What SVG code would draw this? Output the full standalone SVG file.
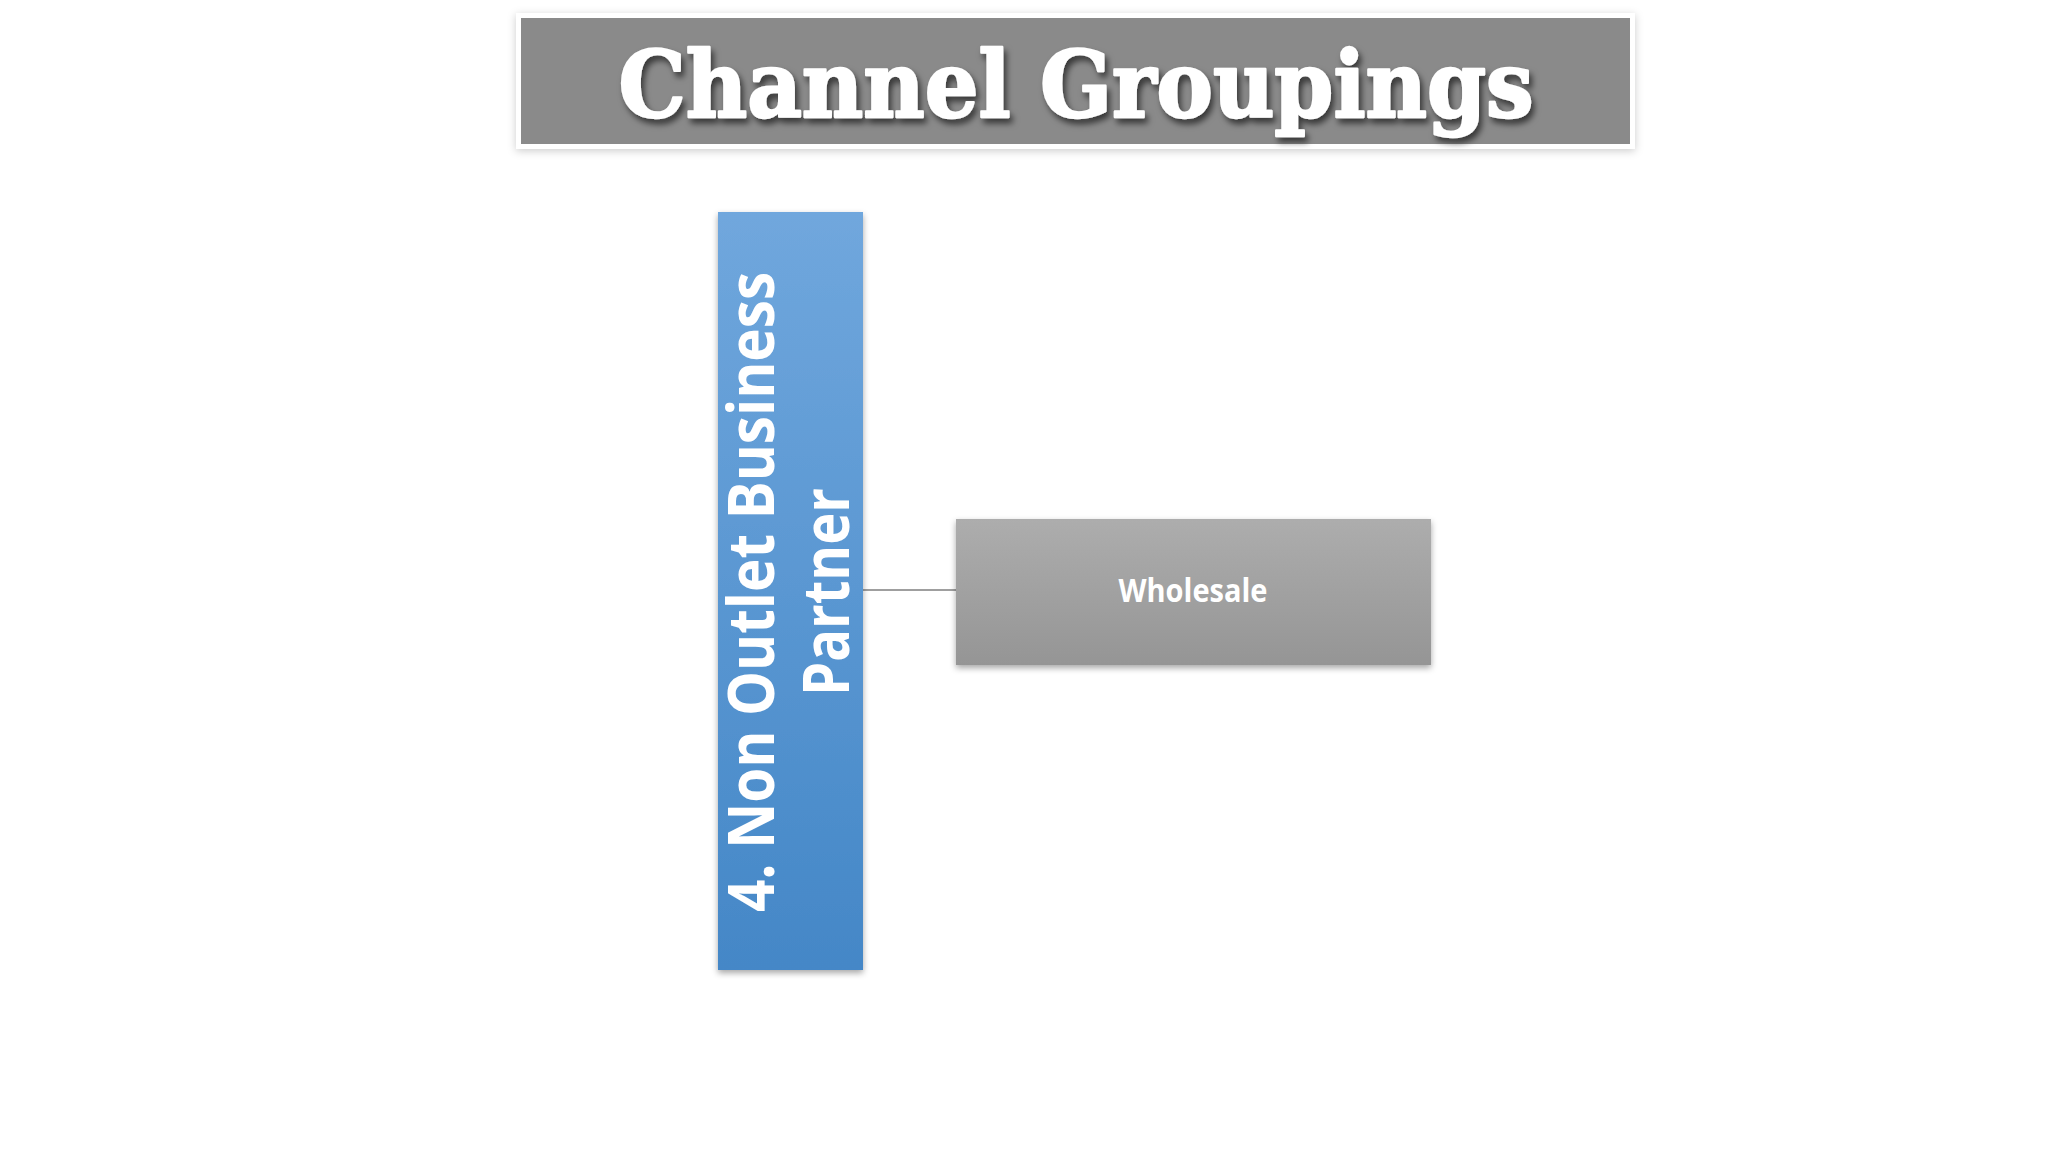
<svg xmlns="http://www.w3.org/2000/svg" width="2048" height="1152" viewBox="0 0 2048 1152">
<style>
.lbl{font-family:"Open Sans","Liberation Sans",sans-serif;font-weight:700;fill:#ffffff}
.title{font-family:"DejaVu Serif","Liberation Serif",serif;font-weight:700;fill:#ffffff;stroke:#ffffff;stroke-width:2.5;stroke-linejoin:round}
.conn{stroke:#7f7f7f;stroke-width:1.5;fill:none}
</style>
<defs>
<linearGradient id="gBlue" x1="0" y1="0" x2="0" y2="1">
<stop offset="0" stop-color="#70a7dd"/>
<stop offset="1" stop-color="#4487c7"/>
</linearGradient>
<linearGradient id="gGray" x1="0" y1="0" x2="0" y2="1">
<stop offset="0" stop-color="#adadad"/>
<stop offset="1" stop-color="#959595"/>
</linearGradient>
<filter id="sh" x="-10%" y="-10%" width="120%" height="120%">
<feDropShadow dx="0" dy="3" stdDeviation="3" flood-color="#000" flood-opacity="0.35"/>
</filter>
<filter id="frameSh" x="-5%" y="-20%" width="110%" height="140%">
<feDropShadow dx="0" dy="2" stdDeviation="4" flood-color="#000" flood-opacity="0.2"/>
</filter>
<filter id="txtSh" x="-5%" y="-20%" width="110%" height="150%">
<feDropShadow dx="3" dy="5" stdDeviation="3" flood-color="#000" flood-opacity="0.6"/>
</filter>
</defs>
<rect width="2048" height="1152" fill="#ffffff"/>
<g id="title">
<rect x="516" y="13" width="1119" height="136" fill="#ffffff" filter="url(#frameSh)"/>
<rect x="521" y="18" width="1109" height="126" fill="#8a8a8a"/>
<text class="title" x="1076" y="117" text-anchor="middle" font-size="92" textLength="915" lengthAdjust="spacingAndGlyphs" filter="url(#txtSh)">Channel Groupings</text>
</g>
<g id="connectors">
<line class="conn" x1="863" y1="590" x2="956" y2="590"/>
</g>
<g id="node-non-outlet">
<rect x="718" y="212" width="145" height="758" fill="url(#gBlue)" filter="url(#sh)"/>
<text class="lbl" font-size="64" transform="translate(774,592) rotate(-90)" text-anchor="middle" textLength="640" lengthAdjust="spacingAndGlyphs">4. Non Outlet Business</text>
<text class="lbl" font-size="64" transform="translate(849,592) rotate(-90)" text-anchor="middle" textLength="208" lengthAdjust="spacingAndGlyphs">Partner</text>
</g>
<g id="node-wholesale">
<rect x="956" y="519" width="475" height="146" fill="url(#gGray)" filter="url(#sh)"/>
<text class="lbl" x="1193" y="602" font-size="32" text-anchor="middle" textLength="149" lengthAdjust="spacingAndGlyphs">Wholesale</text>
</g>
</svg>
